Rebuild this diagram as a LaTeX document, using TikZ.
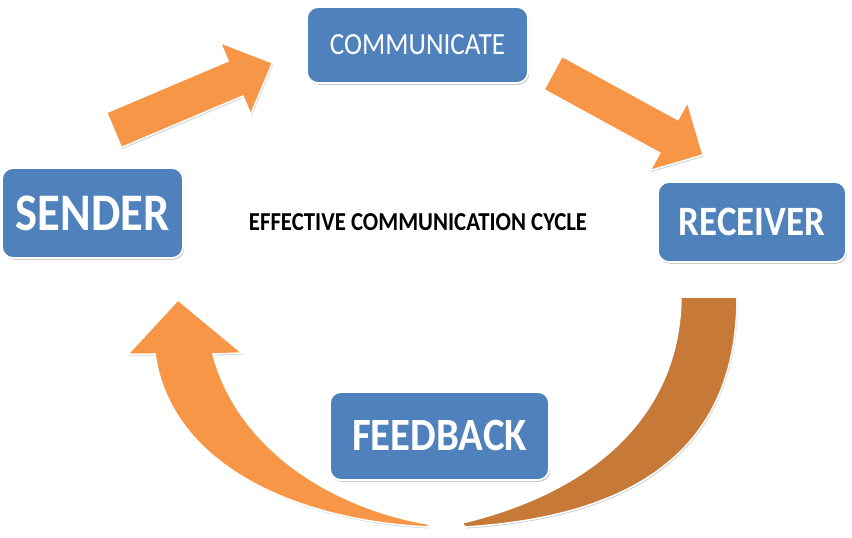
\documentclass[tikz,border=0pt]{standalone}
\usepackage{fontspec}
\usepackage{graphicx}
\setmainfont{Carlito}
\usetikzlibrary{shadows}
\definecolor{boxblue}{RGB}{79,129,189}
\definecolor{arrorange}{RGB}{247,150,70}
\definecolor{arrdark}{RGB}{199,122,56}
\newcommand{\talltext}[1]{\scalebox{0.97}[1.1]{#1}}
\tikzset{
  stagebox/.style={draw=white, line width=1.8pt, fill=boxblue, rounded corners=11pt,
    text=white, inner sep=0pt,
    drop shadow={shadow xshift=1.2pt, shadow yshift=-1.8pt, opacity=0.35, fill=black!60}},
  blockarrow/.style={fill=arrorange, draw=white, line width=1.5pt, line join=miter,
    drop shadow={shadow xshift=1pt, shadow yshift=-1.5pt, opacity=0.3, fill=black!60}},
  darkband/.style={fill=arrdark, draw=white, line width=1.5pt,
    drop shadow={shadow xshift=1pt, shadow yshift=-1.5pt, opacity=0.3, fill=black!60}}
}
\begin{document}
\begin{tikzpicture}[x=1pt,y=-1pt]
\useasboundingbox (0,0) rectangle (852,538);
% straight block arrows
\draw[blockarrow] (106.6,112.5) -- (228.1,61.0) -- (220.3,42.6) -- (272.4,62.8)
  -- (250.7,114.4) -- (242.9,96.0) -- (121.4,147.5) -- cycle;
\draw[blockarrow] (562.1,56.3) -- (677.9,119.6) -- (687.5,102.1) -- (703,155)
  -- (650.1,170.5) -- (659.7,153.0) -- (543.9,89.7) -- cycle;
% curved feedback arrows
\draw[darkband] (737,297) .. controls (737,430) and (660,515) .. (465,527)
  -- (462,523) .. controls (600,490) and (680,410) .. (681,297) -- cycle;
\draw[blockarrow] (178,300) -- (242,353) -- (213,354)
  .. controls (235,440) and (320,505) .. (428,524) -- (428,527)
  .. controls (290,520) and (170,462) .. (155,354) -- (128,354) -- cycle;
% boxes
\node[stagebox, minimum width=181pt, minimum height=90pt, font=\bfseries\fontsize{48}{50}\selectfont]
  (sender) at (92.5,213) {\talltext{SENDER}};
\node[stagebox, minimum width=221pt, minimum height=76pt, font=\fontsize{28}{30}\selectfont]
  (comm) at (417.5,45) {\talltext{COMMUNICATE}};
\node[stagebox, minimum width=188pt, minimum height=80pt, font=\bfseries\fontsize{38}{40}\selectfont]
  (recv) at (752,222) {\talltext{RECEIVER}};
\node[stagebox, minimum width=219pt, minimum height=88pt, font=\bfseries\fontsize{42}{44}\selectfont]
  (feed) at (439.5,436) {\talltext{FEEDBACK}};
\node[font=\bfseries\fontsize{23.5}{25}\selectfont, text=black] (title) at (418,222)
  {\talltext{EFFECTIVE COMMUNICATION CYCLE}};
\end{tikzpicture}
\end{document}
